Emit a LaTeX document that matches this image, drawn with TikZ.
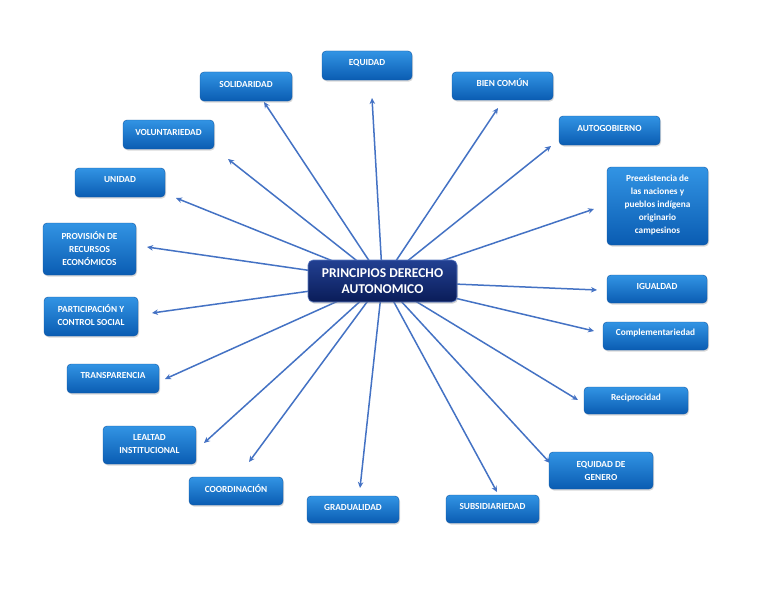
\documentclass[tikz,border=0pt]{standalone}
\usepackage{fontspec}
\setmainfont{Carlito}
\usetikzlibrary{arrows.meta,shadows,backgrounds}
\definecolor{boxtop}{RGB}{50,148,228}
\definecolor{boxbot}{RGB}{10,92,178}
\definecolor{boxline}{RGB}{18,88,165}
\definecolor{ctrtop}{RGB}{34,64,146}
\definecolor{ctrbot}{RGB}{10,28,88}
\definecolor{ctrline}{RGB}{95,125,195}
\definecolor{arrowc}{RGB}{68,114,196}
\tikzset{
  bluebox/.style={rounded corners=4pt, top color=boxtop, bottom color=boxbot, draw=boxline, line width=0.4pt,
    inner sep=0pt, drop shadow={shadow xshift=1pt,shadow yshift=-1.5pt,opacity=0.3}},
  ctrbox/.style={rounded corners=5pt, top color=ctrtop, bottom color=ctrbot, draw=ctrline, line width=0.6pt,
    inner sep=0pt, drop shadow={shadow xshift=1pt,shadow yshift=-1.5pt,opacity=0.35}},
  lbl/.style={text=white, font=\bfseries\fontsize{9.3}{13}\selectfont, align=center, inner sep=0pt},
  ctrlbl/.style={text=white, font=\bfseries\fontsize{13.5}{16}\selectfont, align=center, inner sep=0pt},
  arr/.style={draw=arrowc, line width=1.5pt, -{Stealth[length=6pt,width=5.5pt]}}
}
\begin{document}
\begin{tikzpicture}[x=1pt,y=-1pt]
\useasboundingbox (0,0) rectangle (768,594);
% center
\node[ctrbox, minimum width=149pt, minimum height=42pt] (ctr) at (382.5,281) {};
\node[ctrlbl] (ctr-t) at (382.5,281) {PRINCIPIOS DERECHO\\AUTONOMICO};
% boxes
\node[bluebox, minimum width=90pt, minimum height=29pt] (equ) at (367,65.5) {};
\node[lbl] (equ-t) at (367,63) {EQUIDAD};
\node[bluebox, minimum width=92pt, minimum height=29pt] (sol) at (246,86.5) {};
\node[lbl] (sol-t) at (246,84) {SOLIDARIDAD};
\node[bluebox, minimum width=101pt, minimum height=28pt] (bien) at (502.5,86) {};
\node[lbl] (bien-t) at (502.5,83) {BIEN COMÚN};
\node[bluebox, minimum width=101pt, minimum height=29pt] (auto) at (609.5,130.5) {};
\node[lbl] (auto-t) at (609.5,128) {AUTOGOBIERNO};
\node[bluebox, minimum width=91pt, minimum height=29pt] (vol) at (168.5,134.5) {};
\node[lbl] (vol-t) at (168.5,132) {VOLUNTARIEDAD};
\node[bluebox, minimum width=90pt, minimum height=29pt] (uni) at (120,182.5) {};
\node[lbl] (uni-t) at (120,180) {UNIDAD};
\node[bluebox, minimum width=101pt, minimum height=78pt] (pre) at (657.5,206) {};
\node[lbl] (pre-t) at (657.5,205) {Preexistencia de\\las naciones y\\pueblos indígena\\originario\\campesinos};
\node[bluebox, minimum width=93pt, minimum height=52pt] (prov) at (89.5,249) {};
\node[lbl] (prov-t) at (89.5,249) {PROVISIÓN DE\\RECURSOS\\ECONÓMICOS};
\node[bluebox, minimum width=100pt, minimum height=28pt] (igu) at (657,289) {};
\node[lbl] (igu-t) at (657,286) {IGUALDAD};
\node[bluebox, minimum width=94pt, minimum height=39pt] (part) at (91,316.5) {};
\node[lbl] (part-t) at (91,315) {PARTICIPACIÓN Y\\CONTROL SOCIAL};
\node[bluebox, minimum width=105pt, minimum height=28pt] (comp) at (655.5,336) {};
\node[lbl] (comp-t) at (655.5,333) {Complementariedad};
\node[bluebox, minimum width=92pt, minimum height=29pt] (trans) at (113,378.5) {};
\node[lbl] (trans-t) at (113,375) {TRANSPARENCIA};
\node[bluebox, minimum width=104pt, minimum height=27pt] (reci) at (636,400.5) {};
\node[lbl] (reci-t) at (636,398) {Reciprocidad};
\node[bluebox, minimum width=93pt, minimum height=38pt] (leal) at (149.5,445) {};
\node[lbl] (leal-t) at (149.5,444.5) {LEALTAD\\INSTITUCIONAL};
\node[bluebox, minimum width=104pt, minimum height=37pt] (eqg) at (601,470.5) {};
\node[lbl] (eqg-t) at (601,470.5) {EQUIDAD DE\\GENERO};
\node[bluebox, minimum width=94pt, minimum height=28pt] (coor) at (236,491) {};
\node[lbl] (coor-t) at (236,489) {COORDINACIÓN};
\node[bluebox, minimum width=92pt, minimum height=27pt] (grad) at (353,509.5) {};
\node[lbl] (grad-t) at (353,507) {GRADUALIDAD};
\node[bluebox, minimum width=93pt, minimum height=28pt] (subs) at (492.5,509) {};
\node[lbl] (subs-t) at (492.5,506) {SUBSIDIARIEDAD};
% arrow tips
\coordinate (t-equ) at (372,98);
\coordinate (t-sol) at (264,102);
\coordinate (t-bien) at (498,108);
\coordinate (t-auto) at (551,146);
\coordinate (t-vol) at (228,159);
\coordinate (t-uni) at (176,198);
\coordinate (t-pre) at (594,209);
\coordinate (t-prov) at (147,247);
\coordinate (t-igu) at (597,290);
\coordinate (t-part) at (152,313);
\coordinate (t-comp) at (594,331);
\coordinate (t-trans) at (165,379);
\coordinate (t-reci) at (578,400);
\coordinate (t-leal) at (204,443);
\coordinate (t-eqg) at (550,463);
\coordinate (t-coor) at (249,462);
\coordinate (t-grad) at (360,488);
\coordinate (t-subs) at (497,492);
\begin{scope}[on background layer]
\fill[white] (0,0) rectangle (768,594);
\foreach \n in {equ,sol,bien,auto,vol,uni,pre,prov,igu,part,comp,trans,reci,leal,eqg,coor,grad,subs}
  \draw[arr] (ctr.center) -- (t-\n);
\end{scope}
\end{tikzpicture}
\end{document}
